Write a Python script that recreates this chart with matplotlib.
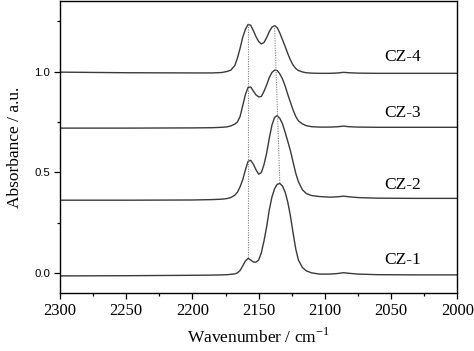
import matplotlib
matplotlib.use("Agg")
import matplotlib.pyplot as plt
import numpy as np
from matplotlib.ticker import MultipleLocator

plt.rcParams['font.family'] = 'Liberation Serif'
plt.rcParams['mathtext.fontset'] = 'custom'
plt.rcParams['mathtext.rm'] = 'Liberation Serif'

# wavenumber grid (cm-1)
wn = [2300, 2250, 2200, 2185, 2178, 2174, 2171, 2168, 2166, 2164, 2162, 2160,
      2158, 2156, 2154, 2152, 2150, 2148, 2146, 2144, 2142, 2140, 2138, 2136,
      2134, 2132, 2130, 2128, 2126, 2124, 2122, 2120, 2117, 2114, 2110, 2104,
      2096, 2090, 2086, 2082, 2075, 2060, 2030, 2000]

cz1 = [-0.015, -0.014, -0.012, -0.011, -0.010, -0.009, -0.007, -0.005, 0.000, 0.012, 0.035, 0.059,
       0.072, 0.064, 0.054, 0.053, 0.064, 0.099, 0.158, 0.228, 0.312, 0.376, 0.418, 0.440,
       0.444, 0.431, 0.401, 0.351, 0.282, 0.198, 0.119, 0.064, 0.027, 0.010, 0.000, -0.006,
       -0.006, -0.003, 0.001, -0.002, -0.006, -0.009, -0.010, -0.010]

cz2 = [0.361, 0.361, 0.362, 0.364, 0.366, 0.369, 0.374, 0.386, 0.401, 0.428, 0.463, 0.512,
       0.554, 0.559, 0.540, 0.512, 0.490, 0.498, 0.537, 0.594, 0.668, 0.733, 0.772, 0.781,
       0.767, 0.740, 0.698, 0.653, 0.606, 0.550, 0.495, 0.453, 0.413, 0.394, 0.384, 0.379,
       0.376, 0.378, 0.381, 0.378, 0.374, 0.371, 0.370, 0.370]

cz3 = [0.719, 0.719, 0.720, 0.721, 0.723, 0.725, 0.730, 0.739, 0.750, 0.777, 0.832, 0.886,
       0.921, 0.923, 0.903, 0.884, 0.874, 0.876, 0.901, 0.933, 0.970, 0.995, 1.007, 1.005,
       0.988, 0.963, 0.928, 0.886, 0.847, 0.809, 0.777, 0.755, 0.740, 0.731, 0.726, 0.724,
       0.724, 0.726, 0.729, 0.726, 0.724, 0.723, 0.723, 0.723]

cz4 = [0.997, 0.994, 0.993, 0.993, 0.995, 1.000, 1.007, 1.030, 1.067, 1.116, 1.171, 1.210,
       1.234, 1.230, 1.203, 1.173, 1.149, 1.137, 1.144, 1.168, 1.198, 1.220, 1.228, 1.218,
       1.191, 1.158, 1.124, 1.089, 1.057, 1.032, 1.015, 1.005, 0.998, 0.994, 0.992, 0.991,
       0.991, 0.993, 0.996, 0.994, 0.992, 0.991, 0.991, 0.991]

names = ["CZ-1", "CZ-2", "CZ-3", "CZ-4"]
label_y = [0.063, 0.434, 0.796, 1.073]
label_x = 2041

wn = np.array(wn)
spectra = [np.array(s) for s in (cz1, cz2, cz3, cz4)]

fig = plt.figure(figsize=(4.74, 3.51), dpi=100)
ax = fig.add_axes([0.1266, 0.1652, 0.8382, 0.8318])

for s in spectra:
    ax.plot(wn, s, color="#3a3a3a", lw=1.0)

# dotted guide lines through the two band maxima
hi = (wn > 2150) & (wn < 2165)
lo = (wn > 2128) & (wn < 2145)
i_hi = np.where(hi)[0][np.argmax(spectra[3][hi])]
ax.plot([wn[i_hi], wn[i_hi]], [spectra[3][i_hi], spectra[0][i_hi]],
        color="#808080", lw=0.8, ls=(0, (1, 1.2)))
i4 = np.where(lo)[0][np.argmax(spectra[3][lo])]
i1 = np.where(lo)[0][np.argmax(spectra[0][lo])]
ax.plot([wn[i4], wn[i1]], [spectra[3][i4], spectra[0][i1]],
        color="#808080", lw=0.8, ls=(0, (1, 1.2)))

for n, y in zip(names, label_y):
    ax.text(label_x, y, n, ha="center", va="center", fontsize=12.5)

ax.set_xlim(2300, 2000)
ax.set_ylim(-0.1, 1.35)
ax.xaxis.set_major_locator(MultipleLocator(50))
ax.xaxis.set_minor_locator(MultipleLocator(25))
ax.yaxis.set_major_locator(MultipleLocator(0.5))
ax.yaxis.set_minor_locator(MultipleLocator(0.25))
ax.yaxis.set_major_formatter(matplotlib.ticker.FormatStrFormatter("%.1f"))
ax.tick_params(which="both", direction="out", top=False, right=False, width=0.9)
ax.tick_params(which="major", length=4)
ax.tick_params(which="minor", length=2.5)
ax.tick_params(axis="x", labelsize=12, pad=3)
ax.tick_params(axis="y", labelsize=8.2, pad=3)
for lab in ax.get_yticklabels():
    lab.set_family("Liberation Sans")
for sp in ax.spines.values():
    sp.set_linewidth(1.0)

ax.set_xlabel(r"Wavenumber / cm$^{\mathregular{-1}}$", fontsize=12.5, labelpad=6)
ax.set_ylabel("Absorbance / a.u.", fontsize=12.5, labelpad=8)

fig.savefig("out.png", dpi=100)
